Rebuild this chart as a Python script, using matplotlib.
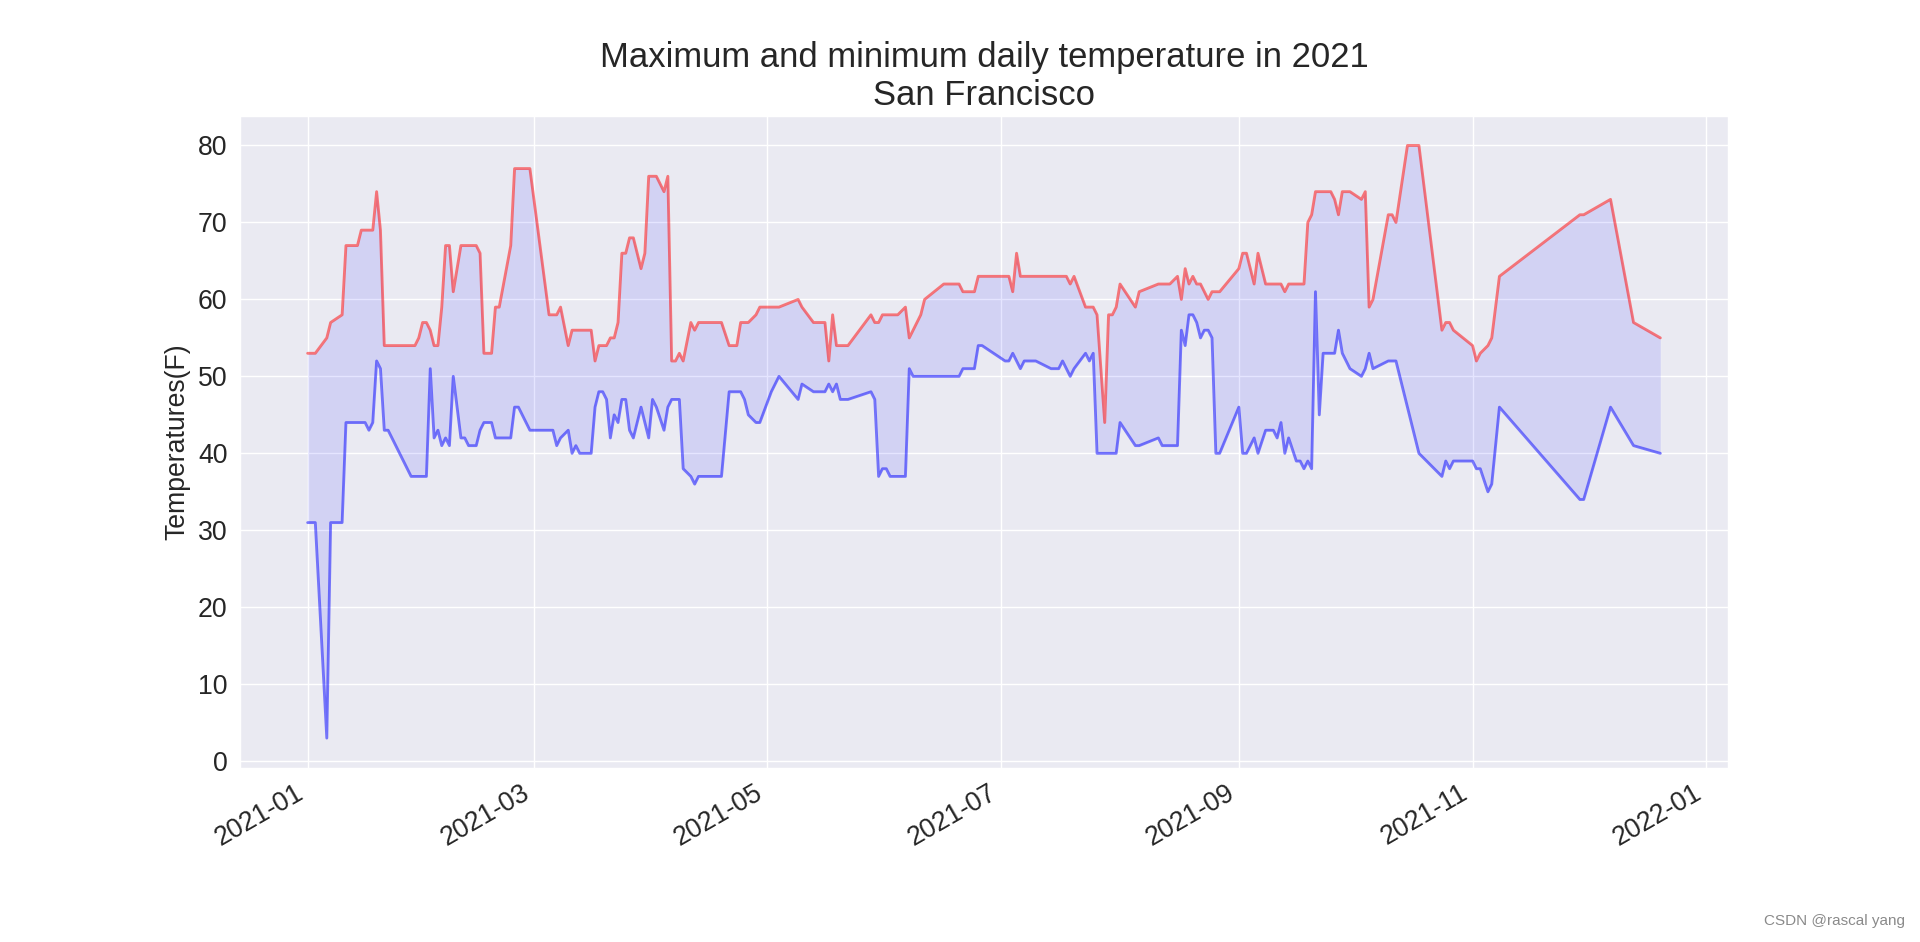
import matplotlib
matplotlib.use('Agg')
import matplotlib.pyplot as plt
import seaborn as sns
import pandas as pd

# ---- data ----
dates = [
    '01-01', '01-03', '01-06', '01-07', '01-10', '01-11', '01-14', '01-15', '01-16', '01-17',
    '01-18', '01-19', '01-20', '01-21', '01-22', '01-28', '01-29', '01-30', '01-31', '02-01',
    '02-02', '02-03', '02-04', '02-05', '02-06', '02-07', '02-08', '02-10', '02-11', '02-12',
    '02-14', '02-15', '02-16', '02-18', '02-19', '02-20', '02-23', '02-24', '02-25', '02-28',
    '03-05', '03-06', '03-07', '03-08', '03-10', '03-11', '03-12', '03-13', '03-16', '03-17',
    '03-18', '03-19', '03-20', '03-21', '03-22', '03-23', '03-24', '03-25', '03-26', '03-27',
    '03-29', '03-30', '03-31', '04-01', '04-02', '04-04', '04-05', '04-06', '04-07', '04-08',
    '04-09', '04-11', '04-12', '04-13', '04-19', '04-21', '04-23', '04-24', '04-25', '04-26',
    '04-28', '04-29', '05-02', '05-04', '05-09', '05-10', '05-13', '05-16', '05-17', '05-18',
    '05-19', '05-20', '05-22', '05-28', '05-29', '05-30', '05-31', '06-01', '06-02', '06-04',
    '06-06', '06-07', '06-08', '06-10', '06-11', '06-16', '06-20', '06-21', '06-24', '06-25',
    '06-26', '07-02', '07-03', '07-04', '07-05', '07-06', '07-07', '07-10', '07-14', '07-16',
    '07-17', '07-18', '07-19', '07-20', '07-23', '07-24', '07-25', '07-26', '07-28', '07-29',
    '07-30', '07-31', '08-01', '08-05', '08-06', '08-11', '08-12', '08-14', '08-16', '08-17',
    '08-18', '08-19', '08-20', '08-21', '08-22', '08-23', '08-24', '08-25', '08-26', '08-27',
    '09-01', '09-02', '09-03', '09-05', '09-06', '09-08', '09-10', '09-11', '09-12', '09-13',
    '09-14', '09-16', '09-17', '09-18', '09-19', '09-20', '09-21', '09-22', '09-23', '09-25',
    '09-26', '09-27', '09-28', '09-30', '10-03', '10-04', '10-05', '10-06', '10-10', '10-11',
    '10-12', '10-15', '10-18', '10-24', '10-25', '10-26', '10-27', '11-01', '11-02', '11-03',
    '11-05', '11-06', '11-08', '11-29', '11-30', '12-07', '12-13', '12-20',
]

highs = [
    53, 53, 55, 57, 58, 67, 67, 69, 69, 69,
    69, 74, 69, 54, 54, 54, 54, 55, 57, 57,
    56, 54, 54, 59, 67, 67, 61, 67, 67, 67,
    67, 66, 53, 53, 59, 59, 67, 77, 77, 77,
    58, 58, 58, 59, 54, 56, 56, 56, 56, 52,
    54, 54, 54, 55, 55, 57, 66, 66, 68, 68,
    64, 66, 76, 76, 76, 74, 76, 52, 52, 53,
    52, 57, 56, 57, 57, 54, 54, 57, 57, 57,
    58, 59, 59, 59, 60, 59, 57, 57, 52, 58,
    54, 54, 54, 58, 57, 57, 58, 58, 58, 58,
    59, 55, 56, 58, 60, 62, 62, 61, 61, 63,
    63, 63, 63, 61, 66, 63, 63, 63, 63, 63,
    63, 63, 62, 63, 59, 59, 59, 58, 44, 58,
    58, 59, 62, 59, 61, 62, 62, 62, 63, 60,
    64, 62, 63, 62, 62, 61, 60, 61, 61, 61,
    64, 66, 66, 62, 66, 62, 62, 62, 62, 61,
    62, 62, 62, 62, 70, 71, 74, 74, 74, 74,
    73, 71, 74, 74, 73, 74, 59, 60, 71, 71,
    70, 80, 80, 56, 57, 57, 56, 54, 52, 53,
    54, 55, 63, 71, 71, 73, 57, 55,
]

lows = [
    31, 31, 3, 31, 31, 44, 44, 44, 44, 43,
    44, 52, 51, 43, 43, 37, 37, 37, 37, 37,
    51, 42, 43, 41, 42, 41, 50, 42, 42, 41,
    41, 43, 44, 44, 42, 42, 42, 46, 46, 43,
    43, 43, 41, 42, 43, 40, 41, 40, 40, 46,
    48, 48, 47, 42, 45, 44, 47, 47, 43, 42,
    46, 44, 42, 47, 46, 43, 46, 47, 47, 47,
    38, 37, 36, 37, 37, 48, 48, 48, 47, 45,
    44, 44, 48, 50, 47, 49, 48, 48, 49, 48,
    49, 47, 47, 48, 47, 37, 38, 38, 37, 37,
    37, 51, 50, 50, 50, 50, 50, 51, 51, 54,
    54, 52, 52, 53, 52, 51, 52, 52, 51, 51,
    52, 51, 50, 51, 53, 52, 53, 40, 40, 40,
    40, 40, 44, 41, 41, 42, 41, 41, 41, 56,
    54, 58, 58, 57, 55, 56, 56, 55, 40, 40,
    46, 40, 40, 42, 40, 43, 43, 42, 44, 40,
    42, 39, 39, 38, 39, 38, 61, 45, 53, 53,
    53, 56, 53, 51, 50, 51, 53, 51, 52, 52,
    52, 46, 40, 37, 39, 38, 39, 39, 38, 38,
    35, 36, 46, 34, 34, 46, 41, 40,
]

title_text = "Maximum and minimum daily temperature in 2021\nSan Francisco"
ylabel_text = "Temperatures(F)"
watermark = "CSDN @rascal yang"

# ---- plotting ----
sns.set_style('darkgrid')
plt.rcParams['font.family'] = ['Liberation Sans', 'DejaVu Sans']

x = pd.to_datetime(['2021-' + d for d in dates])

fig, ax = plt.subplots(figsize=(15, 942 / 128), dpi=128)
ax.plot(x, highs, c='red', alpha=0.5, lw=1.6)
ax.plot(x, lows, c='blue', alpha=0.5, lw=1.6)
ax.fill_between(x, highs, lows, facecolor='blue', alpha=0.1)

ax.set_title(title_text, fontsize=19.5, color='.15')
ax.set_xlabel('')
ax.set_ylabel(ylabel_text, fontsize=15, color='.15')
ax.tick_params(axis='both', which='major', labelsize=15, colors='.15')
fig.autofmt_xdate()
fig.subplots_adjust(left=0.125, right=0.9, top=0.877, bottom=0.185)

fig.text(0.992, 0.018, watermark, ha='right', va='baseline', fontsize=8.6,
         color='#8a8a8a')

fig.savefig('out.png', dpi=128)
